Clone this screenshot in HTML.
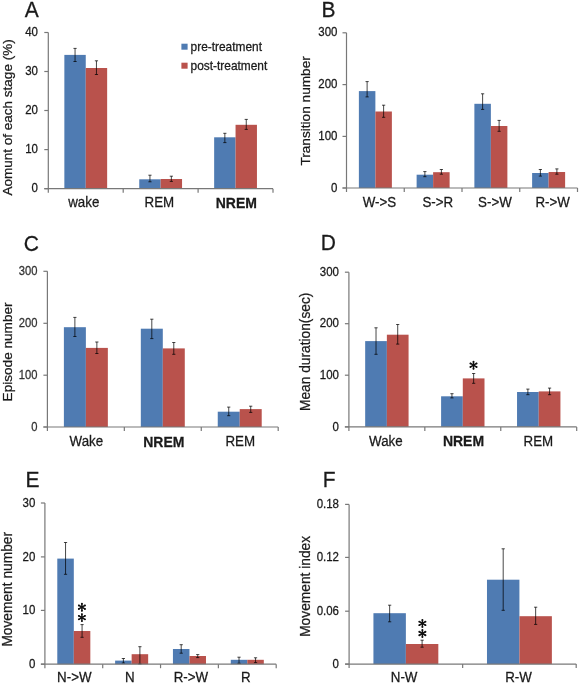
<!DOCTYPE html>
<html><head><meta charset="utf-8"><style>
html,body{margin:0;padding:0;background:#fff;}
svg{display:block;font-family:"Liberation Sans", sans-serif;will-change:transform;}
</style></head><body>
<svg width="579" height="685" viewBox="0 0 579 685">
<rect width="579" height="685" fill="#fff"/>
<rect x="64.35" y="54.90" width="21.40" height="133.80" fill="#4f7bb2"/>
<rect x="85.75" y="68.00" width="21.40" height="120.70" fill="#b9524c"/>
<line x1="75.05" y1="48.40" x2="75.05" y2="61.50" stroke="#000" stroke-width="1.0" stroke-opacity="0.72"/>
<line x1="73.45" y1="48.40" x2="76.65" y2="48.40" stroke="#000" stroke-width="1.0" stroke-opacity="0.72"/>
<line x1="73.45" y1="61.50" x2="76.65" y2="61.50" stroke="#000" stroke-width="1.0" stroke-opacity="0.72"/>
<line x1="96.45" y1="60.80" x2="96.45" y2="74.50" stroke="#000" stroke-width="1.0" stroke-opacity="0.72"/>
<line x1="94.85" y1="60.80" x2="98.05" y2="60.80" stroke="#000" stroke-width="1.0" stroke-opacity="0.72"/>
<line x1="94.85" y1="74.50" x2="98.05" y2="74.50" stroke="#000" stroke-width="1.0" stroke-opacity="0.72"/>
<rect x="139.25" y="179.30" width="21.40" height="9.40" fill="#4f7bb2"/>
<rect x="160.65" y="179.00" width="21.40" height="9.70" fill="#b9524c"/>
<line x1="149.95" y1="175.20" x2="149.95" y2="181.80" stroke="#000" stroke-width="1.0" stroke-opacity="0.72"/>
<line x1="148.35" y1="175.20" x2="151.55" y2="175.20" stroke="#000" stroke-width="1.0" stroke-opacity="0.72"/>
<line x1="148.35" y1="181.80" x2="151.55" y2="181.80" stroke="#000" stroke-width="1.0" stroke-opacity="0.72"/>
<line x1="171.35" y1="176.20" x2="171.35" y2="181.40" stroke="#000" stroke-width="1.0" stroke-opacity="0.72"/>
<line x1="169.75" y1="176.20" x2="172.95" y2="176.20" stroke="#000" stroke-width="1.0" stroke-opacity="0.72"/>
<line x1="169.75" y1="181.40" x2="172.95" y2="181.40" stroke="#000" stroke-width="1.0" stroke-opacity="0.72"/>
<rect x="214.15" y="137.30" width="21.40" height="51.40" fill="#4f7bb2"/>
<rect x="235.55" y="124.80" width="21.40" height="63.90" fill="#b9524c"/>
<line x1="224.85" y1="133.30" x2="224.85" y2="142.60" stroke="#000" stroke-width="1.0" stroke-opacity="0.72"/>
<line x1="223.25" y1="133.30" x2="226.45" y2="133.30" stroke="#000" stroke-width="1.0" stroke-opacity="0.72"/>
<line x1="223.25" y1="142.60" x2="226.45" y2="142.60" stroke="#000" stroke-width="1.0" stroke-opacity="0.72"/>
<line x1="246.25" y1="119.40" x2="246.25" y2="129.40" stroke="#000" stroke-width="1.0" stroke-opacity="0.72"/>
<line x1="244.65" y1="119.40" x2="247.85" y2="119.40" stroke="#000" stroke-width="1.0" stroke-opacity="0.72"/>
<line x1="244.65" y1="129.40" x2="247.85" y2="129.40" stroke="#000" stroke-width="1.0" stroke-opacity="0.72"/>
<line x1="48.30" y1="32.50" x2="48.30" y2="192.70" stroke="#787878" stroke-width="1.2"/>
<line x1="44.30" y1="188.70" x2="273.00" y2="188.70" stroke="#787878" stroke-width="1.2"/>
<line x1="44.30" y1="32.50" x2="48.30" y2="32.50" stroke="#787878" stroke-width="1.2"/>
<text x="0.00" y="0.00" font-size="11.5" text-anchor="end" font-weight="normal" fill="#1a1a1a" stroke="#1a1a1a" stroke-width="0.25" transform="translate(38.00,36.10) scale(1,1.07)">40</text>
<line x1="44.30" y1="71.50" x2="48.30" y2="71.50" stroke="#787878" stroke-width="1.2"/>
<text x="0.00" y="0.00" font-size="11.5" text-anchor="end" font-weight="normal" fill="#1a1a1a" stroke="#1a1a1a" stroke-width="0.25" transform="translate(38.00,75.10) scale(1,1.07)">30</text>
<line x1="44.30" y1="110.50" x2="48.30" y2="110.50" stroke="#787878" stroke-width="1.2"/>
<text x="0.00" y="0.00" font-size="11.5" text-anchor="end" font-weight="normal" fill="#1a1a1a" stroke="#1a1a1a" stroke-width="0.25" transform="translate(38.00,114.10) scale(1,1.07)">20</text>
<line x1="44.30" y1="149.60" x2="48.30" y2="149.60" stroke="#787878" stroke-width="1.2"/>
<text x="0.00" y="0.00" font-size="11.5" text-anchor="end" font-weight="normal" fill="#1a1a1a" stroke="#1a1a1a" stroke-width="0.25" transform="translate(38.00,153.20) scale(1,1.07)">10</text>
<line x1="44.30" y1="188.70" x2="48.30" y2="188.70" stroke="#787878" stroke-width="1.2"/>
<text x="0.00" y="0.00" font-size="11.5" text-anchor="end" font-weight="normal" fill="#1a1a1a" stroke="#1a1a1a" stroke-width="0.25" transform="translate(38.00,192.30) scale(1,1.07)">0</text>
<line x1="123.20" y1="188.70" x2="123.20" y2="192.70" stroke="#787878" stroke-width="1.2"/>
<line x1="198.10" y1="188.70" x2="198.10" y2="192.70" stroke="#787878" stroke-width="1.2"/>
<line x1="273.00" y1="188.70" x2="273.00" y2="192.70" stroke="#787878" stroke-width="1.2"/>
<text x="0.00" y="0.00" font-size="13.35" text-anchor="middle" font-weight="normal" fill="#1a1a1a" stroke="#1a1a1a" stroke-width="0.25" transform="translate(83.75,206.70) scale(1,1.07)">wake</text>
<text x="0.00" y="0.00" font-size="13.35" text-anchor="middle" font-weight="normal" fill="#1a1a1a" stroke="#1a1a1a" stroke-width="0.25" transform="translate(159.35,207.20) scale(1,1.07)">REM</text>
<text x="0.00" y="0.00" font-size="14" text-anchor="middle" font-weight="bold" fill="#1a1a1a" stroke="#1a1a1a" stroke-width="0.25" transform="translate(236.35,207.80) scale(1,1.07)">NREM</text>
<text x="0.00" y="0.00" font-size="21" text-anchor="start" font-weight="normal" fill="#1a1a1a" stroke="#1a1a1a" stroke-width="0.25" transform="translate(24.80,16.70) scale(1,1.07)">A</text>
<text x="0.00" y="0.00" font-size="13.5" text-anchor="middle" font-weight="normal" fill="#1a1a1a" stroke="#1a1a1a" stroke-width="0.25" transform="translate(11.90,117.40) rotate(-90)">Aomunt of each stage (%)</text>
<rect x="358.88" y="91.10" width="16.50" height="96.90" fill="#4f7bb2"/>
<rect x="375.38" y="111.50" width="16.50" height="76.50" fill="#b9524c"/>
<line x1="367.12" y1="81.60" x2="367.12" y2="96.90" stroke="#000" stroke-width="1.0" stroke-opacity="0.72"/>
<line x1="365.52" y1="81.60" x2="368.73" y2="81.60" stroke="#000" stroke-width="1.0" stroke-opacity="0.72"/>
<line x1="365.52" y1="96.90" x2="368.73" y2="96.90" stroke="#000" stroke-width="1.0" stroke-opacity="0.72"/>
<line x1="383.62" y1="105.20" x2="383.62" y2="117.30" stroke="#000" stroke-width="1.0" stroke-opacity="0.72"/>
<line x1="382.02" y1="105.20" x2="385.23" y2="105.20" stroke="#000" stroke-width="1.0" stroke-opacity="0.72"/>
<line x1="382.02" y1="117.30" x2="385.23" y2="117.30" stroke="#000" stroke-width="1.0" stroke-opacity="0.72"/>
<rect x="416.62" y="174.70" width="16.50" height="13.30" fill="#4f7bb2"/>
<rect x="433.12" y="172.20" width="16.50" height="15.80" fill="#b9524c"/>
<line x1="424.88" y1="171.60" x2="424.88" y2="176.70" stroke="#000" stroke-width="1.0" stroke-opacity="0.72"/>
<line x1="423.27" y1="171.60" x2="426.48" y2="171.60" stroke="#000" stroke-width="1.0" stroke-opacity="0.72"/>
<line x1="423.27" y1="176.70" x2="426.48" y2="176.70" stroke="#000" stroke-width="1.0" stroke-opacity="0.72"/>
<line x1="441.38" y1="169.50" x2="441.38" y2="174.20" stroke="#000" stroke-width="1.0" stroke-opacity="0.72"/>
<line x1="439.77" y1="169.50" x2="442.98" y2="169.50" stroke="#000" stroke-width="1.0" stroke-opacity="0.72"/>
<line x1="439.77" y1="174.20" x2="442.98" y2="174.20" stroke="#000" stroke-width="1.0" stroke-opacity="0.72"/>
<rect x="474.38" y="103.80" width="16.50" height="84.20" fill="#4f7bb2"/>
<rect x="490.88" y="126.00" width="16.50" height="62.00" fill="#b9524c"/>
<line x1="482.62" y1="93.80" x2="482.62" y2="109.40" stroke="#000" stroke-width="1.0" stroke-opacity="0.72"/>
<line x1="481.02" y1="93.80" x2="484.23" y2="93.80" stroke="#000" stroke-width="1.0" stroke-opacity="0.72"/>
<line x1="481.02" y1="109.40" x2="484.23" y2="109.40" stroke="#000" stroke-width="1.0" stroke-opacity="0.72"/>
<line x1="499.12" y1="120.40" x2="499.12" y2="131.30" stroke="#000" stroke-width="1.0" stroke-opacity="0.72"/>
<line x1="497.52" y1="120.40" x2="500.73" y2="120.40" stroke="#000" stroke-width="1.0" stroke-opacity="0.72"/>
<line x1="497.52" y1="131.30" x2="500.73" y2="131.30" stroke="#000" stroke-width="1.0" stroke-opacity="0.72"/>
<rect x="532.12" y="173.00" width="16.50" height="15.00" fill="#4f7bb2"/>
<rect x="548.62" y="172.00" width="16.50" height="16.00" fill="#b9524c"/>
<line x1="540.38" y1="169.50" x2="540.38" y2="176.10" stroke="#000" stroke-width="1.0" stroke-opacity="0.72"/>
<line x1="538.77" y1="169.50" x2="541.98" y2="169.50" stroke="#000" stroke-width="1.0" stroke-opacity="0.72"/>
<line x1="538.77" y1="176.10" x2="541.98" y2="176.10" stroke="#000" stroke-width="1.0" stroke-opacity="0.72"/>
<line x1="556.88" y1="168.90" x2="556.88" y2="174.20" stroke="#000" stroke-width="1.0" stroke-opacity="0.72"/>
<line x1="555.27" y1="168.90" x2="558.48" y2="168.90" stroke="#000" stroke-width="1.0" stroke-opacity="0.72"/>
<line x1="555.27" y1="174.20" x2="558.48" y2="174.20" stroke="#000" stroke-width="1.0" stroke-opacity="0.72"/>
<line x1="346.50" y1="32.80" x2="346.50" y2="192.00" stroke="#787878" stroke-width="1.2"/>
<line x1="342.50" y1="188.00" x2="577.50" y2="188.00" stroke="#787878" stroke-width="1.2"/>
<line x1="342.50" y1="32.80" x2="346.50" y2="32.80" stroke="#787878" stroke-width="1.2"/>
<text x="0.00" y="0.00" font-size="11.5" text-anchor="end" font-weight="normal" fill="#1a1a1a" stroke="#1a1a1a" stroke-width="0.25" transform="translate(337.50,36.40) scale(1,1.07)">300</text>
<line x1="342.50" y1="84.60" x2="346.50" y2="84.60" stroke="#787878" stroke-width="1.2"/>
<text x="0.00" y="0.00" font-size="11.5" text-anchor="end" font-weight="normal" fill="#1a1a1a" stroke="#1a1a1a" stroke-width="0.25" transform="translate(337.50,88.20) scale(1,1.07)">200</text>
<line x1="342.50" y1="136.40" x2="346.50" y2="136.40" stroke="#787878" stroke-width="1.2"/>
<text x="0.00" y="0.00" font-size="11.5" text-anchor="end" font-weight="normal" fill="#1a1a1a" stroke="#1a1a1a" stroke-width="0.25" transform="translate(337.50,140.00) scale(1,1.07)">100</text>
<line x1="342.50" y1="188.00" x2="346.50" y2="188.00" stroke="#787878" stroke-width="1.2"/>
<text x="0.00" y="0.00" font-size="11.5" text-anchor="end" font-weight="normal" fill="#1a1a1a" stroke="#1a1a1a" stroke-width="0.25" transform="translate(337.50,191.60) scale(1,1.07)">0</text>
<line x1="404.25" y1="188.00" x2="404.25" y2="192.00" stroke="#787878" stroke-width="1.2"/>
<line x1="462.00" y1="188.00" x2="462.00" y2="192.00" stroke="#787878" stroke-width="1.2"/>
<line x1="519.75" y1="188.00" x2="519.75" y2="192.00" stroke="#787878" stroke-width="1.2"/>
<line x1="577.50" y1="188.00" x2="577.50" y2="192.00" stroke="#787878" stroke-width="1.2"/>
<text x="0.00" y="0.00" font-size="13.35" text-anchor="middle" font-weight="normal" fill="#1a1a1a" stroke="#1a1a1a" stroke-width="0.25" transform="translate(379.40,207.00) scale(1,1.07)">W-&gt;S</text>
<text x="0.00" y="0.00" font-size="13.35" text-anchor="middle" font-weight="normal" fill="#1a1a1a" stroke="#1a1a1a" stroke-width="0.25" transform="translate(437.80,207.00) scale(1,1.07)">S-&gt;R</text>
<text x="0.00" y="0.00" font-size="13.35" text-anchor="middle" font-weight="normal" fill="#1a1a1a" stroke="#1a1a1a" stroke-width="0.25" transform="translate(494.95,207.00) scale(1,1.07)">S-&gt;W</text>
<text x="0.00" y="0.00" font-size="13.35" text-anchor="middle" font-weight="normal" fill="#1a1a1a" stroke="#1a1a1a" stroke-width="0.25" transform="translate(552.65,207.00) scale(1,1.07)">R-&gt;W</text>
<text x="0.00" y="0.00" font-size="21" text-anchor="start" font-weight="normal" fill="#1a1a1a" stroke="#1a1a1a" stroke-width="0.25" transform="translate(321.40,16.60) scale(1,1.07)">B</text>
<text x="0.00" y="0.00" font-size="13.65" text-anchor="middle" font-weight="normal" fill="#1a1a1a" stroke="#1a1a1a" stroke-width="0.25" transform="translate(309.90,110.90) rotate(-90)">Transition number</text>
<rect x="63.89" y="327.20" width="21.98" height="99.80" fill="#4f7bb2"/>
<rect x="85.87" y="347.90" width="21.98" height="79.10" fill="#b9524c"/>
<line x1="74.88" y1="317.40" x2="74.88" y2="336.50" stroke="#000" stroke-width="1.0" stroke-opacity="0.72"/>
<line x1="73.28" y1="317.40" x2="76.48" y2="317.40" stroke="#000" stroke-width="1.0" stroke-opacity="0.72"/>
<line x1="73.28" y1="336.50" x2="76.48" y2="336.50" stroke="#000" stroke-width="1.0" stroke-opacity="0.72"/>
<line x1="96.86" y1="342.00" x2="96.86" y2="353.50" stroke="#000" stroke-width="1.0" stroke-opacity="0.72"/>
<line x1="95.26" y1="342.00" x2="98.46" y2="342.00" stroke="#000" stroke-width="1.0" stroke-opacity="0.72"/>
<line x1="95.26" y1="353.50" x2="98.46" y2="353.50" stroke="#000" stroke-width="1.0" stroke-opacity="0.72"/>
<rect x="140.82" y="328.70" width="21.98" height="98.30" fill="#4f7bb2"/>
<rect x="162.80" y="348.40" width="21.98" height="78.60" fill="#b9524c"/>
<line x1="151.81" y1="319.20" x2="151.81" y2="338.60" stroke="#000" stroke-width="1.0" stroke-opacity="0.72"/>
<line x1="150.21" y1="319.20" x2="153.41" y2="319.20" stroke="#000" stroke-width="1.0" stroke-opacity="0.72"/>
<line x1="150.21" y1="338.60" x2="153.41" y2="338.60" stroke="#000" stroke-width="1.0" stroke-opacity="0.72"/>
<line x1="173.79" y1="342.50" x2="173.79" y2="354.30" stroke="#000" stroke-width="1.0" stroke-opacity="0.72"/>
<line x1="172.19" y1="342.50" x2="175.39" y2="342.50" stroke="#000" stroke-width="1.0" stroke-opacity="0.72"/>
<line x1="172.19" y1="354.30" x2="175.39" y2="354.30" stroke="#000" stroke-width="1.0" stroke-opacity="0.72"/>
<rect x="217.75" y="411.70" width="21.98" height="15.30" fill="#4f7bb2"/>
<rect x="239.73" y="409.10" width="21.98" height="17.90" fill="#b9524c"/>
<line x1="228.74" y1="407.10" x2="228.74" y2="415.70" stroke="#000" stroke-width="1.0" stroke-opacity="0.72"/>
<line x1="227.14" y1="407.10" x2="230.34" y2="407.10" stroke="#000" stroke-width="1.0" stroke-opacity="0.72"/>
<line x1="227.14" y1="415.70" x2="230.34" y2="415.70" stroke="#000" stroke-width="1.0" stroke-opacity="0.72"/>
<line x1="250.72" y1="406.20" x2="250.72" y2="412.40" stroke="#000" stroke-width="1.0" stroke-opacity="0.72"/>
<line x1="249.12" y1="406.20" x2="252.32" y2="406.20" stroke="#000" stroke-width="1.0" stroke-opacity="0.72"/>
<line x1="249.12" y1="412.40" x2="252.32" y2="412.40" stroke="#000" stroke-width="1.0" stroke-opacity="0.72"/>
<line x1="47.40" y1="271.30" x2="47.40" y2="431.00" stroke="#787878" stroke-width="1.2"/>
<line x1="43.40" y1="427.00" x2="278.20" y2="427.00" stroke="#787878" stroke-width="1.2"/>
<line x1="43.40" y1="271.30" x2="47.40" y2="271.30" stroke="#787878" stroke-width="1.2"/>
<text x="0.00" y="0.00" font-size="11.2" text-anchor="end" font-weight="normal" fill="#333" stroke="#333" stroke-width="0.25" transform="translate(37.50,274.90) scale(1,1.07)">300</text>
<line x1="43.40" y1="323.30" x2="47.40" y2="323.30" stroke="#787878" stroke-width="1.2"/>
<text x="0.00" y="0.00" font-size="11.2" text-anchor="end" font-weight="normal" fill="#333" stroke="#333" stroke-width="0.25" transform="translate(37.50,326.90) scale(1,1.07)">200</text>
<line x1="43.40" y1="375.20" x2="47.40" y2="375.20" stroke="#787878" stroke-width="1.2"/>
<text x="0.00" y="0.00" font-size="11.2" text-anchor="end" font-weight="normal" fill="#333" stroke="#333" stroke-width="0.25" transform="translate(37.50,378.80) scale(1,1.07)">100</text>
<line x1="43.40" y1="427.00" x2="47.40" y2="427.00" stroke="#787878" stroke-width="1.2"/>
<text x="0.00" y="0.00" font-size="11.2" text-anchor="end" font-weight="normal" fill="#333" stroke="#333" stroke-width="0.25" transform="translate(37.50,430.60) scale(1,1.07)">0</text>
<line x1="124.33" y1="427.00" x2="124.33" y2="431.00" stroke="#787878" stroke-width="1.2"/>
<line x1="201.27" y1="427.00" x2="201.27" y2="431.00" stroke="#787878" stroke-width="1.2"/>
<line x1="278.20" y1="427.00" x2="278.20" y2="431.00" stroke="#787878" stroke-width="1.2"/>
<text x="0.00" y="0.00" font-size="13.35" text-anchor="middle" font-weight="normal" fill="#1a1a1a" stroke="#1a1a1a" stroke-width="0.25" transform="translate(86.40,445.50) scale(1,1.07)">Wake</text>
<text x="0.00" y="0.00" font-size="14" text-anchor="middle" font-weight="bold" fill="#1a1a1a" stroke="#1a1a1a" stroke-width="0.25" transform="translate(163.85,447.40) scale(1,1.07)">NREM</text>
<text x="0.00" y="0.00" font-size="13.35" text-anchor="middle" font-weight="normal" fill="#1a1a1a" stroke="#1a1a1a" stroke-width="0.25" transform="translate(240.30,446.00) scale(1,1.07)">REM</text>
<text x="0.00" y="0.00" font-size="21" text-anchor="start" font-weight="normal" fill="#1a1a1a" stroke="#1a1a1a" stroke-width="0.25" transform="translate(23.80,250.60) scale(1,1.07)">C</text>
<text x="0.00" y="0.00" font-size="13.6" text-anchor="middle" font-weight="normal" fill="#1a1a1a" stroke="#1a1a1a" stroke-width="0.25" transform="translate(11.90,351.90) rotate(-90)">Episode number</text>
<rect x="365.17" y="341.10" width="21.70" height="85.80" fill="#4f7bb2"/>
<rect x="386.87" y="334.70" width="21.70" height="92.20" fill="#b9524c"/>
<line x1="376.02" y1="327.80" x2="376.02" y2="354.30" stroke="#000" stroke-width="1.0" stroke-opacity="0.72"/>
<line x1="374.42" y1="327.80" x2="377.62" y2="327.80" stroke="#000" stroke-width="1.0" stroke-opacity="0.72"/>
<line x1="374.42" y1="354.30" x2="377.62" y2="354.30" stroke="#000" stroke-width="1.0" stroke-opacity="0.72"/>
<line x1="397.71" y1="324.50" x2="397.71" y2="344.10" stroke="#000" stroke-width="1.0" stroke-opacity="0.72"/>
<line x1="396.11" y1="324.50" x2="399.31" y2="324.50" stroke="#000" stroke-width="1.0" stroke-opacity="0.72"/>
<line x1="396.11" y1="344.10" x2="399.31" y2="344.10" stroke="#000" stroke-width="1.0" stroke-opacity="0.72"/>
<rect x="441.10" y="396.30" width="21.70" height="30.60" fill="#4f7bb2"/>
<rect x="462.80" y="378.40" width="21.70" height="48.50" fill="#b9524c"/>
<line x1="451.95" y1="393.70" x2="451.95" y2="397.90" stroke="#000" stroke-width="1.0" stroke-opacity="0.72"/>
<line x1="450.35" y1="393.70" x2="453.55" y2="393.70" stroke="#000" stroke-width="1.0" stroke-opacity="0.72"/>
<line x1="450.35" y1="397.90" x2="453.55" y2="397.90" stroke="#000" stroke-width="1.0" stroke-opacity="0.72"/>
<line x1="473.65" y1="373.50" x2="473.65" y2="383.30" stroke="#000" stroke-width="1.0" stroke-opacity="0.72"/>
<line x1="472.05" y1="373.50" x2="475.25" y2="373.50" stroke="#000" stroke-width="1.0" stroke-opacity="0.72"/>
<line x1="472.05" y1="383.30" x2="475.25" y2="383.30" stroke="#000" stroke-width="1.0" stroke-opacity="0.72"/>
<rect x="517.04" y="392.00" width="21.70" height="34.90" fill="#4f7bb2"/>
<rect x="538.73" y="391.40" width="21.70" height="35.50" fill="#b9524c"/>
<line x1="527.89" y1="389.10" x2="527.89" y2="394.70" stroke="#000" stroke-width="1.0" stroke-opacity="0.72"/>
<line x1="526.29" y1="389.10" x2="529.49" y2="389.10" stroke="#000" stroke-width="1.0" stroke-opacity="0.72"/>
<line x1="526.29" y1="394.70" x2="529.49" y2="394.70" stroke="#000" stroke-width="1.0" stroke-opacity="0.72"/>
<line x1="549.58" y1="388.10" x2="549.58" y2="394.70" stroke="#000" stroke-width="1.0" stroke-opacity="0.72"/>
<line x1="547.98" y1="388.10" x2="551.18" y2="388.10" stroke="#000" stroke-width="1.0" stroke-opacity="0.72"/>
<line x1="547.98" y1="394.70" x2="551.18" y2="394.70" stroke="#000" stroke-width="1.0" stroke-opacity="0.72"/>
<line x1="348.90" y1="272.20" x2="348.90" y2="430.90" stroke="#787878" stroke-width="1.2"/>
<line x1="344.90" y1="426.90" x2="576.70" y2="426.90" stroke="#787878" stroke-width="1.2"/>
<line x1="344.90" y1="272.20" x2="348.90" y2="272.20" stroke="#787878" stroke-width="1.2"/>
<text x="0.00" y="0.00" font-size="11.5" text-anchor="end" font-weight="normal" fill="#1a1a1a" stroke="#1a1a1a" stroke-width="0.25" transform="translate(339.00,275.80) scale(1,1.07)">300</text>
<line x1="344.90" y1="323.70" x2="348.90" y2="323.70" stroke="#787878" stroke-width="1.2"/>
<text x="0.00" y="0.00" font-size="11.5" text-anchor="end" font-weight="normal" fill="#1a1a1a" stroke="#1a1a1a" stroke-width="0.25" transform="translate(339.00,327.30) scale(1,1.07)">200</text>
<line x1="344.90" y1="375.20" x2="348.90" y2="375.20" stroke="#787878" stroke-width="1.2"/>
<text x="0.00" y="0.00" font-size="11.5" text-anchor="end" font-weight="normal" fill="#1a1a1a" stroke="#1a1a1a" stroke-width="0.25" transform="translate(339.00,378.80) scale(1,1.07)">100</text>
<line x1="344.90" y1="426.90" x2="348.90" y2="426.90" stroke="#787878" stroke-width="1.2"/>
<text x="0.00" y="0.00" font-size="11.5" text-anchor="end" font-weight="normal" fill="#1a1a1a" stroke="#1a1a1a" stroke-width="0.25" transform="translate(339.00,430.50) scale(1,1.07)">0</text>
<line x1="424.83" y1="426.90" x2="424.83" y2="430.90" stroke="#787878" stroke-width="1.2"/>
<line x1="500.77" y1="426.90" x2="500.77" y2="430.90" stroke="#787878" stroke-width="1.2"/>
<line x1="576.70" y1="426.90" x2="576.70" y2="430.90" stroke="#787878" stroke-width="1.2"/>
<text x="0.00" y="0.00" font-size="13.35" text-anchor="middle" font-weight="normal" fill="#1a1a1a" stroke="#1a1a1a" stroke-width="0.25" transform="translate(385.90,446.40) scale(1,1.07)">Wake</text>
<text x="0.00" y="0.00" font-size="14" text-anchor="middle" font-weight="bold" fill="#1a1a1a" stroke="#1a1a1a" stroke-width="0.25" transform="translate(463.50,446.20) scale(1,1.07)">NREM</text>
<text x="0.00" y="0.00" font-size="13.35" text-anchor="middle" font-weight="normal" fill="#1a1a1a" stroke="#1a1a1a" stroke-width="0.25" transform="translate(538.40,446.40) scale(1,1.07)">REM</text>
<text x="0.00" y="0.00" font-size="21" text-anchor="start" font-weight="normal" fill="#1a1a1a" stroke="#1a1a1a" stroke-width="0.25" transform="translate(320.80,250.40) scale(1,1.07)">D</text>
<text x="0.00" y="0.00" font-size="13.75" text-anchor="middle" font-weight="normal" fill="#1a1a1a" stroke="#1a1a1a" stroke-width="0.25" transform="translate(309.90,351.80) rotate(-90)">Mean duration(sec)</text>
<rect x="57.29" y="558.60" width="16.52" height="105.60" fill="#4f7bb2"/>
<rect x="73.81" y="631.00" width="16.52" height="33.20" fill="#b9524c"/>
<line x1="65.55" y1="542.50" x2="65.55" y2="574.30" stroke="#000" stroke-width="1.0" stroke-opacity="0.72"/>
<line x1="63.95" y1="542.50" x2="67.15" y2="542.50" stroke="#000" stroke-width="1.0" stroke-opacity="0.72"/>
<line x1="63.95" y1="574.30" x2="67.15" y2="574.30" stroke="#000" stroke-width="1.0" stroke-opacity="0.72"/>
<line x1="82.07" y1="624.60" x2="82.07" y2="637.30" stroke="#000" stroke-width="1.0" stroke-opacity="0.72"/>
<line x1="80.47" y1="624.60" x2="83.67" y2="624.60" stroke="#000" stroke-width="1.0" stroke-opacity="0.72"/>
<line x1="80.47" y1="637.30" x2="83.67" y2="637.30" stroke="#000" stroke-width="1.0" stroke-opacity="0.72"/>
<rect x="115.12" y="660.60" width="16.52" height="3.60" fill="#4f7bb2"/>
<rect x="131.64" y="654.20" width="16.52" height="10.00" fill="#b9524c"/>
<line x1="123.38" y1="658.50" x2="123.38" y2="663.00" stroke="#000" stroke-width="1.0" stroke-opacity="0.72"/>
<line x1="121.78" y1="658.50" x2="124.98" y2="658.50" stroke="#000" stroke-width="1.0" stroke-opacity="0.72"/>
<line x1="121.78" y1="663.00" x2="124.98" y2="663.00" stroke="#000" stroke-width="1.0" stroke-opacity="0.72"/>
<line x1="139.90" y1="646.70" x2="139.90" y2="664.00" stroke="#000" stroke-width="1.0" stroke-opacity="0.72"/>
<line x1="138.30" y1="646.70" x2="141.50" y2="646.70" stroke="#000" stroke-width="1.0" stroke-opacity="0.72"/>
<line x1="138.30" y1="664.00" x2="141.50" y2="664.00" stroke="#000" stroke-width="1.0" stroke-opacity="0.72"/>
<rect x="172.94" y="649.00" width="16.52" height="15.20" fill="#4f7bb2"/>
<rect x="189.46" y="656.00" width="16.52" height="8.20" fill="#b9524c"/>
<line x1="181.20" y1="644.70" x2="181.20" y2="653.20" stroke="#000" stroke-width="1.0" stroke-opacity="0.72"/>
<line x1="179.60" y1="644.70" x2="182.80" y2="644.70" stroke="#000" stroke-width="1.0" stroke-opacity="0.72"/>
<line x1="179.60" y1="653.20" x2="182.80" y2="653.20" stroke="#000" stroke-width="1.0" stroke-opacity="0.72"/>
<line x1="197.72" y1="654.60" x2="197.72" y2="657.60" stroke="#000" stroke-width="1.0" stroke-opacity="0.72"/>
<line x1="196.12" y1="654.60" x2="199.32" y2="654.60" stroke="#000" stroke-width="1.0" stroke-opacity="0.72"/>
<line x1="196.12" y1="657.60" x2="199.32" y2="657.60" stroke="#000" stroke-width="1.0" stroke-opacity="0.72"/>
<rect x="230.77" y="659.80" width="16.52" height="4.40" fill="#4f7bb2"/>
<rect x="247.29" y="659.80" width="16.52" height="4.40" fill="#b9524c"/>
<line x1="239.03" y1="657.20" x2="239.03" y2="663.30" stroke="#000" stroke-width="1.0" stroke-opacity="0.72"/>
<line x1="237.43" y1="657.20" x2="240.63" y2="657.20" stroke="#000" stroke-width="1.0" stroke-opacity="0.72"/>
<line x1="237.43" y1="663.30" x2="240.63" y2="663.30" stroke="#000" stroke-width="1.0" stroke-opacity="0.72"/>
<line x1="255.55" y1="657.80" x2="255.55" y2="662.60" stroke="#000" stroke-width="1.0" stroke-opacity="0.72"/>
<line x1="253.95" y1="657.80" x2="257.15" y2="657.80" stroke="#000" stroke-width="1.0" stroke-opacity="0.72"/>
<line x1="253.95" y1="662.60" x2="257.15" y2="662.60" stroke="#000" stroke-width="1.0" stroke-opacity="0.72"/>
<line x1="44.90" y1="503.00" x2="44.90" y2="668.20" stroke="#787878" stroke-width="1.2"/>
<line x1="40.90" y1="664.20" x2="276.20" y2="664.20" stroke="#787878" stroke-width="1.2"/>
<line x1="40.90" y1="503.00" x2="44.90" y2="503.00" stroke="#787878" stroke-width="1.2"/>
<text x="0.00" y="0.00" font-size="11.5" text-anchor="end" font-weight="normal" fill="#1a1a1a" stroke="#1a1a1a" stroke-width="0.25" transform="translate(35.30,506.60) scale(1,1.07)">30</text>
<line x1="40.90" y1="556.90" x2="44.90" y2="556.90" stroke="#787878" stroke-width="1.2"/>
<text x="0.00" y="0.00" font-size="11.5" text-anchor="end" font-weight="normal" fill="#1a1a1a" stroke="#1a1a1a" stroke-width="0.25" transform="translate(35.30,560.50) scale(1,1.07)">20</text>
<line x1="40.90" y1="610.40" x2="44.90" y2="610.40" stroke="#787878" stroke-width="1.2"/>
<text x="0.00" y="0.00" font-size="11.5" text-anchor="end" font-weight="normal" fill="#1a1a1a" stroke="#1a1a1a" stroke-width="0.25" transform="translate(35.30,614.00) scale(1,1.07)">10</text>
<line x1="40.90" y1="664.20" x2="44.90" y2="664.20" stroke="#787878" stroke-width="1.2"/>
<text x="0.00" y="0.00" font-size="11.5" text-anchor="end" font-weight="normal" fill="#1a1a1a" stroke="#1a1a1a" stroke-width="0.25" transform="translate(35.30,667.80) scale(1,1.07)">0</text>
<line x1="102.72" y1="664.20" x2="102.72" y2="668.20" stroke="#787878" stroke-width="1.2"/>
<line x1="160.55" y1="664.20" x2="160.55" y2="668.20" stroke="#787878" stroke-width="1.2"/>
<line x1="218.38" y1="664.20" x2="218.38" y2="668.20" stroke="#787878" stroke-width="1.2"/>
<line x1="276.20" y1="664.20" x2="276.20" y2="668.20" stroke="#787878" stroke-width="1.2"/>
<text x="0.00" y="0.00" font-size="13.35" text-anchor="middle" font-weight="normal" fill="#1a1a1a" stroke="#1a1a1a" stroke-width="0.25" transform="translate(74.35,682.40) scale(1,1.07)">N-&gt;W</text>
<text x="0.00" y="0.00" font-size="13.35" text-anchor="middle" font-weight="normal" fill="#1a1a1a" stroke="#1a1a1a" stroke-width="0.25" transform="translate(129.75,682.40) scale(1,1.07)">N</text>
<text x="0.00" y="0.00" font-size="13.35" text-anchor="middle" font-weight="normal" fill="#1a1a1a" stroke="#1a1a1a" stroke-width="0.25" transform="translate(190.90,682.40) scale(1,1.07)">R-&gt;W</text>
<text x="0.00" y="0.00" font-size="13.35" text-anchor="middle" font-weight="normal" fill="#1a1a1a" stroke="#1a1a1a" stroke-width="0.25" transform="translate(245.90,682.40) scale(1,1.07)">R</text>
<text x="0.00" y="0.00" font-size="21" text-anchor="start" font-weight="normal" fill="#1a1a1a" stroke="#1a1a1a" stroke-width="0.25" transform="translate(25.50,486.70) scale(1,1.07)">E</text>
<text x="0.00" y="0.00" font-size="13.75" text-anchor="middle" font-weight="normal" fill="#1a1a1a" stroke="#1a1a1a" stroke-width="0.25" transform="translate(11.90,589.30) rotate(-90)">Movement number</text>
<rect x="373.43" y="613.20" width="32.44" height="50.90" fill="#4f7bb2"/>
<rect x="405.88" y="644.00" width="32.44" height="20.10" fill="#b9524c"/>
<line x1="389.65" y1="605.20" x2="389.65" y2="621.80" stroke="#000" stroke-width="1.0" stroke-opacity="0.72"/>
<line x1="388.05" y1="605.20" x2="391.25" y2="605.20" stroke="#000" stroke-width="1.0" stroke-opacity="0.72"/>
<line x1="388.05" y1="621.80" x2="391.25" y2="621.80" stroke="#000" stroke-width="1.0" stroke-opacity="0.72"/>
<line x1="422.10" y1="640.20" x2="422.10" y2="647.20" stroke="#000" stroke-width="1.0" stroke-opacity="0.72"/>
<line x1="420.50" y1="640.20" x2="423.70" y2="640.20" stroke="#000" stroke-width="1.0" stroke-opacity="0.72"/>
<line x1="420.50" y1="647.20" x2="423.70" y2="647.20" stroke="#000" stroke-width="1.0" stroke-opacity="0.72"/>
<rect x="486.98" y="579.70" width="32.44" height="84.40" fill="#4f7bb2"/>
<rect x="519.43" y="616.20" width="32.44" height="47.90" fill="#b9524c"/>
<line x1="503.20" y1="548.80" x2="503.20" y2="610.30" stroke="#000" stroke-width="1.0" stroke-opacity="0.72"/>
<line x1="501.60" y1="548.80" x2="504.80" y2="548.80" stroke="#000" stroke-width="1.0" stroke-opacity="0.72"/>
<line x1="501.60" y1="610.30" x2="504.80" y2="610.30" stroke="#000" stroke-width="1.0" stroke-opacity="0.72"/>
<line x1="535.65" y1="607.20" x2="535.65" y2="624.40" stroke="#000" stroke-width="1.0" stroke-opacity="0.72"/>
<line x1="534.05" y1="607.20" x2="537.25" y2="607.20" stroke="#000" stroke-width="1.0" stroke-opacity="0.72"/>
<line x1="534.05" y1="624.40" x2="537.25" y2="624.40" stroke="#000" stroke-width="1.0" stroke-opacity="0.72"/>
<line x1="349.10" y1="504.40" x2="349.10" y2="668.10" stroke="#787878" stroke-width="1.2"/>
<line x1="345.10" y1="664.10" x2="576.20" y2="664.10" stroke="#787878" stroke-width="1.2"/>
<line x1="345.10" y1="504.40" x2="349.10" y2="504.40" stroke="#787878" stroke-width="1.2"/>
<text x="0.00" y="0.00" font-size="11.5" text-anchor="end" font-weight="normal" fill="#1a1a1a" stroke="#1a1a1a" stroke-width="0.25" transform="translate(339.00,508.00) scale(1,1.07)">0.18</text>
<line x1="345.10" y1="557.40" x2="349.10" y2="557.40" stroke="#787878" stroke-width="1.2"/>
<text x="0.00" y="0.00" font-size="11.5" text-anchor="end" font-weight="normal" fill="#1a1a1a" stroke="#1a1a1a" stroke-width="0.25" transform="translate(339.00,561.00) scale(1,1.07)">0.12</text>
<line x1="345.10" y1="611.20" x2="349.10" y2="611.20" stroke="#787878" stroke-width="1.2"/>
<text x="0.00" y="0.00" font-size="11.5" text-anchor="end" font-weight="normal" fill="#1a1a1a" stroke="#1a1a1a" stroke-width="0.25" transform="translate(339.00,614.80) scale(1,1.07)">0.06</text>
<line x1="345.10" y1="664.10" x2="349.10" y2="664.10" stroke="#787878" stroke-width="1.2"/>
<text x="0.00" y="0.00" font-size="11.5" text-anchor="end" font-weight="normal" fill="#1a1a1a" stroke="#1a1a1a" stroke-width="0.25" transform="translate(339.00,667.70) scale(1,1.07)">0</text>
<line x1="462.65" y1="664.10" x2="462.65" y2="668.10" stroke="#787878" stroke-width="1.2"/>
<line x1="576.20" y1="664.10" x2="576.20" y2="668.10" stroke="#787878" stroke-width="1.2"/>
<text x="0.00" y="0.00" font-size="13.35" text-anchor="middle" font-weight="normal" fill="#1a1a1a" stroke="#1a1a1a" stroke-width="0.25" transform="translate(404.10,682.20) scale(1,1.07)">N-W</text>
<text x="0.00" y="0.00" font-size="13.35" text-anchor="middle" font-weight="normal" fill="#1a1a1a" stroke="#1a1a1a" stroke-width="0.25" transform="translate(518.50,682.20) scale(1,1.07)">R-W</text>
<text x="0.00" y="0.00" font-size="21" text-anchor="start" font-weight="normal" fill="#1a1a1a" stroke="#1a1a1a" stroke-width="0.25" transform="translate(322.80,486.50) scale(1,1.07)">F</text>
<text x="0.00" y="0.00" font-size="13.75" text-anchor="middle" font-weight="normal" fill="#1a1a1a" stroke="#1a1a1a" stroke-width="0.25" transform="translate(309.90,586.40) rotate(-90)">Movement index</text>
<rect x="181.40" y="43.70" width="6.20" height="6.00" fill="#4f7bb2"/>
<rect x="181.40" y="62.70" width="6.20" height="6.00" fill="#b9524c"/>
<text x="0.00" y="0.00" font-size="11.9" text-anchor="start" font-weight="normal" fill="#1a1a1a" stroke="#1a1a1a" stroke-width="0.25" transform="translate(190.60,50.80) scale(1,1.07)">pre-treatment</text>
<text x="0.00" y="0.00" font-size="11.9" text-anchor="start" font-weight="normal" fill="#1a1a1a" stroke="#1a1a1a" stroke-width="0.25" transform="translate(190.60,69.60) scale(1,1.07)">post-treatment</text>
<line x1="473.50" y1="361.70" x2="473.50" y2="368.70" stroke="#111" stroke-width="1.45" stroke-linecap="round"/>
<circle cx="473.50" cy="368.70" r="0.95" fill="#111"/>
<circle cx="473.50" cy="361.70" r="0.95" fill="#111"/>
<line x1="470.47" y1="363.45" x2="476.53" y2="366.95" stroke="#111" stroke-width="1.45" stroke-linecap="round"/>
<circle cx="476.53" cy="366.95" r="0.95" fill="#111"/>
<circle cx="470.47" cy="363.45" r="0.95" fill="#111"/>
<line x1="470.47" y1="366.95" x2="476.53" y2="363.45" stroke="#111" stroke-width="1.45" stroke-linecap="round"/>
<circle cx="476.53" cy="363.45" r="0.95" fill="#111"/>
<circle cx="470.47" cy="366.95" r="0.95" fill="#111"/>
<circle cx="473.50" cy="365.20" r="1.3" fill="#111"/>
<line x1="81.90" y1="603.70" x2="81.90" y2="610.70" stroke="#111" stroke-width="1.45" stroke-linecap="round"/>
<circle cx="81.90" cy="610.70" r="0.95" fill="#111"/>
<circle cx="81.90" cy="603.70" r="0.95" fill="#111"/>
<line x1="78.87" y1="605.45" x2="84.93" y2="608.95" stroke="#111" stroke-width="1.45" stroke-linecap="round"/>
<circle cx="84.93" cy="608.95" r="0.95" fill="#111"/>
<circle cx="78.87" cy="605.45" r="0.95" fill="#111"/>
<line x1="78.87" y1="608.95" x2="84.93" y2="605.45" stroke="#111" stroke-width="1.45" stroke-linecap="round"/>
<circle cx="84.93" cy="605.45" r="0.95" fill="#111"/>
<circle cx="78.87" cy="608.95" r="0.95" fill="#111"/>
<circle cx="81.90" cy="607.20" r="1.3" fill="#111"/>
<line x1="81.90" y1="614.10" x2="81.90" y2="621.10" stroke="#111" stroke-width="1.45" stroke-linecap="round"/>
<circle cx="81.90" cy="621.10" r="0.95" fill="#111"/>
<circle cx="81.90" cy="614.10" r="0.95" fill="#111"/>
<line x1="78.87" y1="615.85" x2="84.93" y2="619.35" stroke="#111" stroke-width="1.45" stroke-linecap="round"/>
<circle cx="84.93" cy="619.35" r="0.95" fill="#111"/>
<circle cx="78.87" cy="615.85" r="0.95" fill="#111"/>
<line x1="78.87" y1="619.35" x2="84.93" y2="615.85" stroke="#111" stroke-width="1.45" stroke-linecap="round"/>
<circle cx="84.93" cy="615.85" r="0.95" fill="#111"/>
<circle cx="78.87" cy="619.35" r="0.95" fill="#111"/>
<circle cx="81.90" cy="617.60" r="1.3" fill="#111"/>
<line x1="422.40" y1="619.90" x2="422.40" y2="626.90" stroke="#111" stroke-width="1.45" stroke-linecap="round"/>
<circle cx="422.40" cy="626.90" r="0.95" fill="#111"/>
<circle cx="422.40" cy="619.90" r="0.95" fill="#111"/>
<line x1="419.37" y1="621.65" x2="425.43" y2="625.15" stroke="#111" stroke-width="1.45" stroke-linecap="round"/>
<circle cx="425.43" cy="625.15" r="0.95" fill="#111"/>
<circle cx="419.37" cy="621.65" r="0.95" fill="#111"/>
<line x1="419.37" y1="625.15" x2="425.43" y2="621.65" stroke="#111" stroke-width="1.45" stroke-linecap="round"/>
<circle cx="425.43" cy="621.65" r="0.95" fill="#111"/>
<circle cx="419.37" cy="625.15" r="0.95" fill="#111"/>
<circle cx="422.40" cy="623.40" r="1.3" fill="#111"/>
<line x1="422.40" y1="630.00" x2="422.40" y2="637.00" stroke="#111" stroke-width="1.45" stroke-linecap="round"/>
<circle cx="422.40" cy="637.00" r="0.95" fill="#111"/>
<circle cx="422.40" cy="630.00" r="0.95" fill="#111"/>
<line x1="419.37" y1="631.75" x2="425.43" y2="635.25" stroke="#111" stroke-width="1.45" stroke-linecap="round"/>
<circle cx="425.43" cy="635.25" r="0.95" fill="#111"/>
<circle cx="419.37" cy="631.75" r="0.95" fill="#111"/>
<line x1="419.37" y1="635.25" x2="425.43" y2="631.75" stroke="#111" stroke-width="1.45" stroke-linecap="round"/>
<circle cx="425.43" cy="631.75" r="0.95" fill="#111"/>
<circle cx="419.37" cy="635.25" r="0.95" fill="#111"/>
<circle cx="422.40" cy="633.50" r="1.3" fill="#111"/>
</svg>
</body></html>
